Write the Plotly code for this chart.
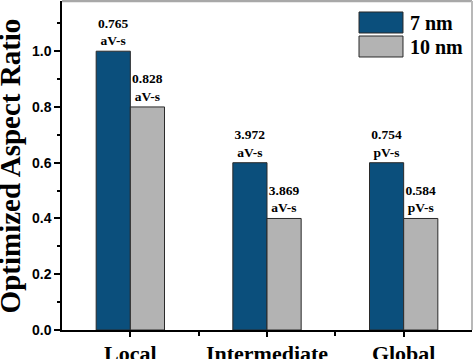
import plotly.graph_objects as go

categories = ["Local", "Intermediate", "Global"]
ratio_7nm = [1.0, 0.6, 0.6]
ratio_10nm = [0.8, 0.4, 0.4]
label_7nm = ["0.765<br>aV-s", "3.972<br>aV-s", "0.754<br>pV-s"]
label_10nm = ["0.828<br>aV-s", "3.869<br>aV-s", "0.584<br>pV-s"]
series_names = ["7 nm", "10 nm"]
y_ticks = [0.0, 0.2, 0.4, 0.6, 0.8, 1.0]

BLUE = "#0b4f7c"
GRAY = "#b3b3b3"
EDGE = "#2a2a2a"
SERIF = "Liberation Serif"
SANS = "Liberation Sans"

xpos = list(range(len(categories)))

fig = go.Figure()
for name, vals, labs, col in [(series_names[0], ratio_7nm, label_7nm, BLUE),
                              (series_names[1], ratio_10nm, label_10nm, GRAY)]:
    fig.add_trace(go.Bar(
        x=xpos, y=vals, name=name, text=labs, textposition="outside",
        textfont=dict(family=SERIF, size=13.5, color="black", weight="bold"),
        constraintext="none", cliponaxis=False,
        marker=dict(color=col, line=dict(color=EDGE, width=1)),
        showlegend=False,
    ))

# legend drawn manually (large swatches)
legend_rows = [(series_names[0], BLUE, 0.9666, 0.9027), (series_names[1], GRAY, 0.8936, 0.8298)]
for name, col, y1, y0 in legend_rows:
    fig.add_shape(type="rect", xref="paper", yref="paper", x0=0.7244, x1=0.8317, y0=y0, y1=y1,
                  fillcolor=col, line=dict(color=EDGE, width=1))
    fig.add_annotation(xref="paper", yref="paper", x=0.843, y=(y0 + y1) / 2, text=name,
                       showarrow=False, xanchor="left", yanchor="middle",
                       font=dict(family=SERIF, size=20, color="black", weight="bold"))

# gray frame top/right
fig.add_shape(type="line", xref="paper", yref="paper", x0=0, x1=1.0, y0=1.0, y1=1.0,
              line=dict(color="#a8a8a8", width=2.5))
fig.add_shape(type="line", xref="paper", yref="paper", x0=1.0, x1=1.0, y0=0, y1=1.0,
              line=dict(color="#b8b8b8", width=2))

fig.add_annotation(xref="paper", yref="paper", x=-0.127, y=0.5, text="Optimized Aspect Ratio",
                   textangle=-90, showarrow=False, xanchor="center", yanchor="middle",
                   font=dict(family=SERIF, size=29, color="black", weight="bold"))

fig.update_layout(
    width=474, height=359,
    margin=dict(l=62, r=2, t=1, b=29, autoexpand=False),
    paper_bgcolor="white", plot_bgcolor="white",
    barmode="group", bargap=0.5, bargroupgap=0,
    xaxis=dict(range=[-0.5, 2.5], tickvals=xpos, ticktext=categories, automargin=False,
               ticks="outside", ticklen=5, tickwidth=1.5, tickcolor="black",
               showline=True, linecolor="black", linewidth=1.5, showgrid=False, zeroline=False,
               ticklabelstandoff=-2,
               tickfont=dict(family=SERIF, size=22, color="black", weight="bold"),
               minor=dict(tickvals=[0.5, 1.5], ticks="outside", ticklen=4, tickcolor="black", tickwidth=1.5)),
    yaxis=dict(range=[0, 1.18], tickvals=y_ticks, tickformat=".1f", automargin=False,
               ticks="outside", ticklen=6, tickwidth=1.5, tickcolor="black",
               showline=True, linecolor="black", linewidth=1.5, showgrid=False, zeroline=False,
               tickfont=dict(family=SANS, size=14, color="black", weight="bold"),
               minor=dict(dtick=0.1, ticks="outside", ticklen=3, tickcolor="black", tickwidth=1.5)),
)

fig.write_html("out.html", config={"displayModeBar": False},
               post_script="document.body.style.margin='0';")
